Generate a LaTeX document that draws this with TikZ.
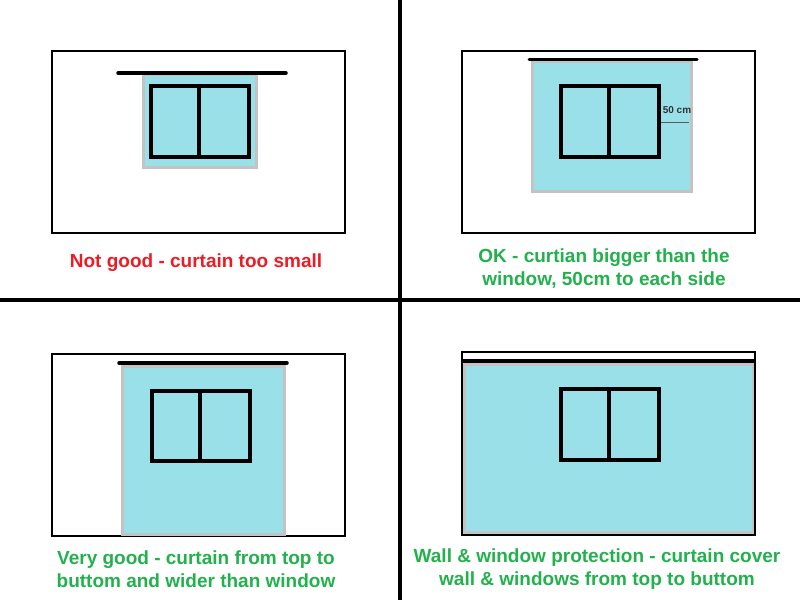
\documentclass[tikz,border=0pt]{standalone}
\usepackage{fontspec}
\setmainfont{Liberation Sans}
\usetikzlibrary{calc}

\begin{document}
\begin{tikzpicture}[x=1pt, y=-1pt]
    % Define colours
    \definecolor{wallColour}{HTML}{000000}
    \definecolor{curtainColour}{HTML}{99E0E9}
    \definecolor{hemColour}{HTML}{C3C3C3}
    \definecolor{badColour}{HTML}{ED1C24}
    \definecolor{goodColour}{HTML}{22B14C}

    % Define styles
    \tikzset{
        wall/.style={draw=wallColour, line width=2pt},
        curtain/.style={fill=curtainColour, draw=hemColour, line width=3pt},
        rod/.style={draw=black, line width=3.5pt, line cap=round},
        frame/.style={draw=black, line width=4pt},
        caption/.style={font=\fontsize{19}{23}\selectfont\bfseries, align=center},
    }

    % Window with two panes: left, top, right, bottom, middle
    \def\drawWindow#1#2#3#4#5{
        \draw[frame] (#1,#2) rectangle (#3,#4);
        \draw[frame] (#5,#2) -- (#5,#4);
    }

    \useasboundingbox (0,0) rectangle (800,600);

    % Draw dividers
    \draw[line width=4pt] (400,0) -- (400,600);
    \draw[line width=4pt] (0,300) -- (800,300);

    % Top left: curtain too small
    \draw[wall] (52,51) rectangle (345,233);
    \draw[curtain] (143.5,74.5) rectangle (256.5,167.5);
    \draw[rod] (118,73) -- (286,73);
    \drawWindow{151}{86}{249}{157}{199}
    \node[caption, text=badColour] (badText) at (196,263) {Not good - curtain too small};

    % Top right: curtain 50 cm wider
    \draw[wall] (462,51) rectangle (755,233);
    \draw[curtain] (532.5,61.5) rectangle (691.5,191.5);
    \draw[rod, line width=3pt] (529,59) -- (697,59);
    \drawWindow{561}{86}{659}{157}{609}
    \coordinate (sideStart) at (661,122);
    \coordinate (sideEnd) at (689,122);
    \draw[gray!70!black, line width=1pt] (sideStart) -- (sideEnd);
    \node[font=\fontsize{10}{12}\selectfont\bfseries, text=black!80, inner sep=0pt] (sideText) at (677,110) {50 cm};
    \node[caption, text=goodColour] (okText) at (604,269) {OK - curtian bigger than the\\window, 50cm to each side};

    % Bottom left: curtain from top to bottom
    \draw[wall] (52,354) rectangle (345,536);
    \draw[curtain] (122.5,366.5) rectangle (284.5,534);
    \draw[rod] (119,363) -- (287,363);
    \drawWindow{152}{391}{250}{461}{200}
    \node[caption, text=goodColour] (veryGoodText) at (196,569) {Very good - curtain from top to\\buttom and wider than window};

    % Bottom right: curtain covers the wall
    \draw[curtain] (464.5,364.5) rectangle (753.5,532.5);
    \draw[wall] (462,352) rectangle (755,535);
    \draw[wall, line width=4pt] (462,361) -- (755,361);
    \drawWindow{561}{389}{659}{460}{609}
    \node[caption, text=goodColour] (wallText) at (597,569) {Wall \& window protection - curtain cover\\wall \& windows from top to buttom};

\end{tikzpicture}
\end{document}
